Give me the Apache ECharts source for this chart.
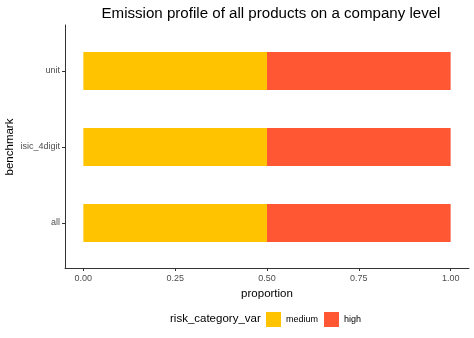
<!DOCTYPE html>
<html>
<head>
<meta charset="utf-8">
<script src="https://cdn.jsdelivr.net/npm/echarts@6/dist/echarts.min.js"></script>
<style>html,body{margin:0;padding:0;background:#fff}#c{width:474px;height:338px}</style>
</head>
<body>
<div id="c"></div>
<script>
// Benchmarks, listed bottom to top
const benchmarks = ['all', 'isic_4digit', 'unit'];
const mediumShare = [0.5, 0.5, 0.5];
const highShare = [0.5, 0.5, 0.5];
const xTicks = [0, 0.25, 0.5, 0.75, 1];

const FONT = 'Liberation Sans';
const chart = echarts.init(document.getElementById('c'));
chart.setOption({
  backgroundColor: '#fff',
  animation: false,
  title: {
    text: 'Emission profile of all products on a company level',
    left: 266, top: 1, textAlign: 'center',
    textStyle: { fontFamily: FONT, fontSize: 15.1, fontWeight: 'normal', color: '#000' }
  },
  legend: {
    data: ['medium', 'high'],
    left: 266, top: 312, padding: 0,
    itemWidth: 15, itemHeight: 15, itemGap: 6,
    icon: 'rect',
    textStyle: { fontFamily: FONT, fontSize: 9, color: '#000' }
  },
  graphic: [{
    type: 'text', left: 170, top: 313,
    style: { text: 'risk_category_var', fontFamily: FONT, fontSize: 11.5, fill: '#000' }
  }, {
    // y-axis title, rotated
    type: 'text', x: 10, y: 147, rotation: Math.PI / 2,
    style: { text: 'benchmark', fontFamily: FONT, fontSize: 11.5, fill: '#000', align: 'center', verticalAlign: 'middle' }
  }],
  grid: [
    { left: 65, right: 5, top: 33, height: 228, outerBoundsMode: 'none', containLabel: false },
    { left: 65, right: 5, top: 25, height: 243, outerBoundsMode: 'none', containLabel: false }
  ],
  xAxis: [{
    gridIndex: 0, type: 'value', min: -0.05, max: 1.05, offset: 7,
    splitLine: { show: false },
    axisLine: { show: true, onZero: false, lineStyle: { color: '#333', width: 1 } },
    axisTick: { show: true, length: 3, customValues: xTicks, lineStyle: { color: '#333' } },
    axisLabel: { customValues: xTicks, formatter: v => v.toFixed(2), fontFamily: FONT, fontSize: 9, color: '#4d4d4d', margin: 6 },
    name: 'proportion', nameLocation: 'middle', nameGap: 15,
    nameTextStyle: { fontFamily: FONT, fontSize: 11.5, color: '#000' }
  }, {
    gridIndex: 1, type: 'value', show: false
  }],
  yAxis: [{
    gridIndex: 0, type: 'category', data: benchmarks,
    axisLine: { show: false, onZero: false },
    axisTick: { show: true, alignWithLabel: true, length: 3, lineStyle: { color: '#333' } },
    axisLabel: { fontFamily: FONT, fontSize: 9, color: '#4d4d4d', margin: 5 }
  }, {
    gridIndex: 1, type: 'value',
    axisLine: { show: true, onZero: false, lineStyle: { color: '#333', width: 1 } },
    axisTick: { show: false }, axisLabel: { show: false }, splitLine: { show: false }
  }],
  series: [{
    name: 'medium', type: 'bar', stack: 'share', data: mediumShare,
    xAxisIndex: 0, yAxisIndex: 0, barWidth: '50%',
    itemStyle: { color: '#FFC300' }
  }, {
    name: 'high', type: 'bar', stack: 'share', data: highShare,
    xAxisIndex: 0, yAxisIndex: 0, barWidth: '50%',
    itemStyle: { color: '#FF5733' }
  }]
});
</script>
</body>
</html>
